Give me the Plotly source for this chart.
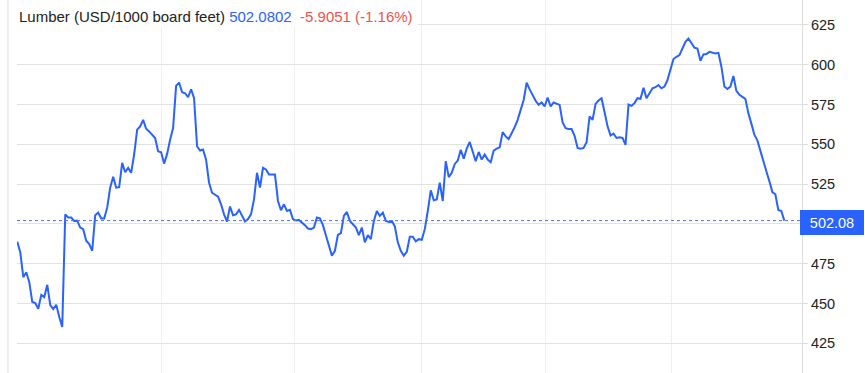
import plotly.graph_objects as go

# ---- data (trading-day index, price) ----
days = [0,1,2,3,4,5,6,7,8,9,10,11,12,13,14,15,16,17,18,19,20,21,22,23,24,25,26,27,28,29,
        30,31,32,33,34,35,36,37,38,39,40,41,42,43,44,46,47,48,49,50,51,52,53,54,55,56,57,58,59,
        60,61,62,63,64,65,66,67,68,69,70,71,72,73,74,75,76,77,78,79,80,81,82,83,84,85,86,87,88,89,
        90,91,92,93,94,96,97,98,99,100,101,102,103,104,105,106,107,108,109,110,111,113,114,115,116,
        117,118,119,120,121,122,123,124,125,126,127,128,129,130,131,132,133,134,135,136,137,138,139,
        140,141,142,143,144,145,146,147,148,149,150,151,152,153,154,155,156,157,158,159,160,161,162,
        163,164,165,166,167,168,169,170,171,173,174,175,176,177,178,179,180,181,182,183,184,185,186,
        187,188,189,190,191,192,193,194,195,196,197,198,199,200,201,202,203,204,205,206,207,208,209,
        210,211,212,213,214,215,216,217,218,219,220,221,222,223,224,225,226,227,228,229,230,231,232,
        233,234,235,236,237,238,239,240,241,243,244,245,246,247,248,249,250,251,252,253,254,255,256]
prices = [488.8,482.1,466.5,469.6,463.4,450.9,450.2,446.7,455.4,454.0,461.7,449.0,446.5,449.2,441.5,
          435.3,506.0,504.0,504.0,501.9,502.0,497.7,496.7,489.4,487.3,483.1,505.4,507.1,503.4,503.4,
          510.2,522.8,529.6,522.8,523.1,538.4,532.5,535.2,532.1,543.6,559.2,561.3,565.4,559.8,558.1,
          554.0,545.6,545.0,537.9,544.0,552.9,560.2,586.7,588.8,582.7,582.1,579.6,584.6,579.0,
          548.8,546.1,546.7,540.4,525.9,519.6,518.6,517.1,512.3,506.0,501.5,510.9,505.4,506.0,508.8,
          505.0,501.5,503.0,506.0,515.4,532.1,522.8,535.2,534.2,531.0,531.0,531.0,514.4,508.6,512.3,
          508.1,508.8,503.0,502.1,502.5,499.2,497.1,496.7,497.7,504.0,503.5,499.2,492.5,485.2,480.0,
          483.1,493.1,494.2,505.0,507.5,501.9,497.7,492.9,497.7,488.4,492.9,490.4,501.9,508.1,505.0,
          507.1,501.9,501.3,501.9,498.4,488.4,483.1,480.0,482.5,491.9,491.9,489.0,490.4,490.0,496.7,
          508.1,521.1,514.8,515.4,525.9,514.4,539.4,529.4,532.1,537.7,539.8,546.5,541.0,547.3,551.5,
          546.1,539.4,545.2,540.4,543.6,540.4,538.8,546.1,547.3,548.1,557.7,555.0,553.3,556.6,560.8,
          565.4,571.2,577.9,588.7,584.5,577.4,574.8,576.3,573.8,579.4,573.8,576.3,575.4,574.8,563.8,
          560.2,559.6,559.6,555.4,547.7,547.3,547.7,551.3,567.5,565.4,575.4,577.5,579.0,570.3,561.3,
          555.6,556.7,554.0,554.4,554.0,549.6,575.0,574.2,575.9,579.0,578.6,585.6,579.0,582.1,585.2,
          585.9,587.3,585.2,586.3,590.4,597.7,603.6,605.0,606.1,610.2,614.4,616.5,613.3,610.8,610.2,
          602.5,606.5,606.7,608.1,607.5,607.1,607.5,598.8,586.3,584.8,586.3,593.0,583.6,581.1,578.6,
          569.6,563.0,556.1,552.5,545.6,539.4,533.1,526.9,520.0,518.6,508.8,508.1,502.08]

y_ticks = [425, 450, 475, 500, 525, 550, 575, 600, 625]
# the 500 label sits under the last-price box in the reference, so it is not shown
y_ticktext = ["425", "450", "475", "", "525", "550", "575", "600", "625"]
month_lines = [48, 92.5, 135, 176.4, 218.4]

title_name = "Lumber (USD/1000 board feet)"
last_value = "502.0802"
change_text = "-5.9051 (-1.16%)"
last_label = "502.08"
last_price = prices[-1]

BLUE = "#2962ff"
RED = "#ef5350"
FONT = "Arial, Liberation Sans, sans-serif"

fig = go.Figure()
fig.add_trace(go.Scatter(x=days, y=prices, mode="lines",
                         line=dict(color=BLUE, width=2), hoverinfo="skip"))

fig.update_layout(
    width=865, height=373,
    margin=dict(l=17, r=63, t=0, b=0),
    paper_bgcolor="white", plot_bgcolor="white",
    showlegend=False,
    font=dict(family=FONT, size=14.5, color="#222"),
    xaxis=dict(range=[-0.1, 261.9], tickvals=month_lines, showticklabels=False,
               showgrid=True, gridcolor="#eeeeee", gridwidth=1, zeroline=False,
               showline=False, ticks=""),
    yaxis=dict(range=[406.3, 640.7], side="right", tickvals=y_ticks,
               ticktext=y_ticktext,
               showgrid=True, gridcolor="#e2e2e2", gridwidth=1, zeroline=False,
               showline=True, linecolor="#dddddd", linewidth=1,
               ticks="outside", ticklen=5, tickcolor="#dddddd",
               tickfont=dict(family=FONT, size=14.5, color="#222")),
)

shapes = [
    # left border line
    dict(type="line", xref="paper", yref="paper", x0=-0.0115, x1=-0.0115, y0=0, y1=1,
         line=dict(color="#dddddd", width=1)),
    # last price dotted line
    dict(type="line", xref="paper", yref="y", x0=0, x1=1, y0=last_price, y1=last_price,
         line=dict(color="#5577dd", width=1, dash="dot")),
    # white box behind the header
    dict(type="rect", xref="paper", yref="paper", x0=-0.0102, x1=0.511,
         y0=1 - 28 / 373, y1=1.0, fillcolor="white", line=dict(width=0), layer="above"),
]
fig.update_layout(shapes=shapes)

fig.add_annotation(
    xref="paper", yref="paper", x=0.0, y=1 - 16 / 373, xanchor="left", yanchor="middle",
    showarrow=False, align="left",
    text=(f"{title_name} <span style='color:{BLUE}'>{last_value}</span>&nbsp; "
          f"<span style='color:{RED}'>{change_text}</span>"),
    font=dict(family=FONT, size=15, color="#222"),
)

fig.add_annotation(
    xref="paper", yref="y", x=1.0, y=last_price, xanchor="left", yanchor="middle",
    showarrow=False, text=last_label, bgcolor=BLUE, bordercolor=BLUE, borderwidth=0,
    borderpad=0, width=64, height=25, align="center", yshift=-2, xshift=-2,
    font=dict(family=FONT, size=14.5, color="white"),
)

fig.write_html("out.html")
